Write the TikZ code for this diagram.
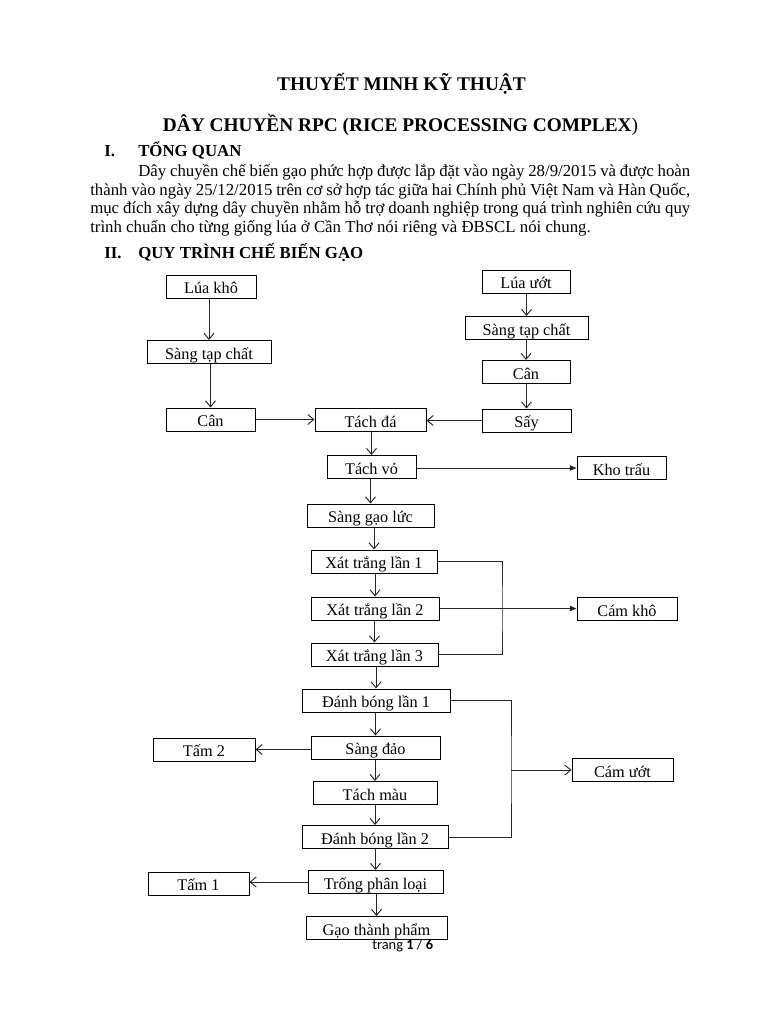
\documentclass[tikz,border=0pt]{standalone}
\usepackage{fontspec}
\setmainfont{Liberation Serif}
\newfontfamily\carlito{Carlito}
\usetikzlibrary{arrows.meta}

\newcommand\bodyfs{\fontsize{12.2pt}{14.6pt}\selectfont}
\newcommand\parfs{\fontsize{12.6pt}{15pt}\selectfont}
\newcommand\titlefs{\fontsize{14.5pt}{17pt}\selectfont\bfseries}

\begin{document}
\begin{tikzpicture}[x=0.75pt, y=-0.75pt]
    \tikzset{
        box/.style={draw, line width=0.75pt, inner sep=0pt, minimum height=17.25pt,
            text height=14.1pt, text depth=3.15pt, font=\bodyfs},
        wd/.style={minimum width=#1*0.75pt},
        txt/.style={inner sep=0pt, anchor=base west, font=\parfs},
        ln/.style={line width=0.7pt, draw=black!85},
        arr/.style={ln, -{Straight Barb[length=4.5pt, width=7.5pt]}},
        arrf/.style={ln, -{Triangle[length=5pt, width=4pt]}},
    }
    \fill[white] (0,0) rectangle (768,1024);
    \useasboundingbox (0,0) rectangle (768,1024);

    % Heading and text
    \node[inner sep=0pt, anchor=base, font=\titlefs] (t1) at (401.5,90) {THUYẾT MINH KỸ THUẬT};
    \node[inner sep=0pt, anchor=base, font=\titlefs] (t2) at (400.5,132) {DÂY CHUYỀN RPC (RICE PROCESSING COMPLEX\textmd{)}};
    \node[txt, font=\parfs\bfseries] (s1) at (104,156) {I.};
    \node[txt, font=\parfs\bfseries] (s1t) at (138,156) {TỔNG QUAN};
    \node[txt] (p1) at (138,176.5) {\makebox[414pt][s]{Dây chuyền chế biến gạo phức hợp được lắp đặt vào ngày 28/9/2015 và được hoàn}};
    \node[txt] (p2) at (90,195.2) {\makebox[450pt][s]{thành vào ngày 25/12/2015 trên cơ sở hợp tác giữa hai Chính phủ Việt Nam và Hàn Quốc,}};
    \node[txt] (p3) at (90,213.9) {\makebox[450pt][s]{mục đích xây dựng dây chuyền nhằm hỗ trợ doanh nghiệp trong quá trình nghiên cứu quy}};
    \node[txt] (p4) at (90,232.6) {trình chuẩn cho từng giống lúa ở Cần Thơ nói riêng và ĐBSCL nói chung.};
    \node[txt, font=\parfs\bfseries] (s2) at (104,258) {II.};
    \node[txt, font=\parfs\bfseries] (s2t) at (138,258) {QUY TRÌNH CHẾ BIẾN GẠO};
    \node[inner sep=0pt, anchor=base west, font=\carlito\fontsize{10.8pt}{13pt}\selectfont] (pg) at (372,949) {trang \textbf{1} / \textbf{6}};

    % Boxes
    \node[box, wd=90]  (lk)   at (211,286.5)   {Lúa khô};
    \node[box, wd=124] (st1)  at (209,352)     {Sàng tạp chất};
    \node[box, wd=89]  (can1) at (210.5,419.5) {Cân};
    \node[box, wd=111] (td)   at (370.5,420)   {Tách đá};
    \node[box, wd=88]  (lu)   at (526,281.5)   {Lúa ướt};
    \node[box, wd=123] (st2)  at (526.5,328)   {Sàng tạp chất};
    \node[box, wd=88]  (can2) at (526,372)     {Cân};
    \node[box, wd=89]  (say)  at (526.5,420.5) {Sấy};
    \node[box, wd=89]  (tv)   at (371.5,467)   {Tách vỏ};
    \node[box, wd=89]  (kt)   at (621.5,468)   {Kho trấu};
    \node[box, wd=127] (sgl)  at (370.5,515.5) {Sàng gạo lức};
    \node[box, wd=126] (xt1)  at (374,561.5)   {Xát trắng lần 1};
    \node[box, wd=128] (xt2)  at (375,608.5)   {Xát trắng lần 2};
    \node[box, wd=127] (xt3)  at (374.5,654.5) {Xát trắng lần 3};
    \node[box, wd=100] (ck)   at (627,609)     {Cám khô};
    \node[box, wd=148] (db1)  at (376,700.5)   {Đánh bóng lần 1};
    \node[box, wd=129] (sd)   at (375.5,747.5) {Sàng đảo};
    \node[box, wd=102] (tam2) at (204,749.5)   {Tấm 2};
    \node[box, wd=124] (tm)   at (375,793)     {Tách màu};
    \node[box, wd=146] (db2)  at (375,837)     {Đánh bóng lần 2};
    \node[box, wd=135] (tpl)  at (375.5,882)   {Trống phân loại};
    \node[box, wd=101] (tam1) at (198.5,883.5) {Tấm 1};
    \node[box, wd=141] (gtp)  at (376.5,928)   {Gạo thành phẩm};
    \node[box, wd=101] (cu)   at (622.5,770)   {Cám ướt};

    \coordinate (bx1) at (502,609);
    \coordinate (bx2) at (511,770);

    % Arrows
    \draw[arr] (lk.south -| st1) -- (st1.north);
    \draw[arr] (st1.south -| can1) -- (can1.north);
    \draw[arr] (can1.east) -- (can1.east -| td.west);
    \draw[arr] (lu.south -| st2) -- (st2.north);
    \draw[arr] (st2.south -| can2) -- (can2.north);
    \draw[arr] (can2.south -| say) -- (say.north);
    \draw[arr] (say.west) -- (say.west -| td.east);
    \draw[arr] (td.south -| tv) -- (tv.north);
    \draw[arrf] (tv.east |- kt.west) -- (kt.west);
    \draw[arr] (tv.south -| sgl) -- (sgl.north);
    \draw[arr] (sgl.south -| xt1) -- (xt1.north);
    \draw[arr] (xt1.south -| xt2) -- (xt2.north);
    \draw[arr] (xt2.south -| xt3) -- (xt3.north);
    \draw[ln] (xt1.east) -| (bx1) |- (xt3.east);
    \draw[arrf] (xt2.east) -- (xt2.east -| ck.west);
    \draw[arr] (xt3.south -| db1) -- (db1.north);
    \draw[arr] (db1.south -| sd) -- (sd.north);
    \draw[arr] (sd.west |- tam2.east) -- (tam2.east);
    \draw[arr] (sd.south -| tm) -- (tm.north);
    \draw[arr] (tm.south -| db2) -- (db2.north);
    \draw[ln] (db1.east) -| (bx2) |- (db2.east);
    \draw[arr] (bx2) -- (cu.west);
    \draw[arr] (db2.south -| tpl) -- (tpl.north);
    \draw[arr] (tpl.west) -- (tpl.west -| tam1.east);
    \draw[arr] (tpl.south -| gtp) -- (gtp.north);
\end{tikzpicture}
\end{document}
